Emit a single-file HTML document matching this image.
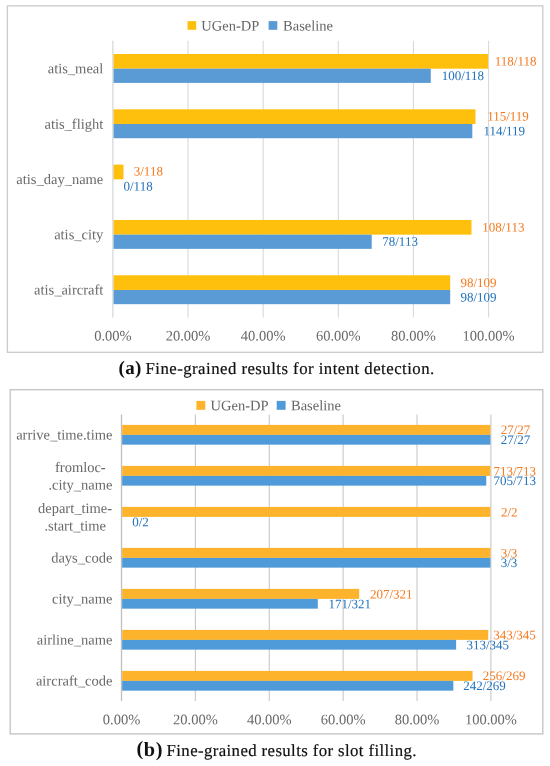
<!DOCTYPE html>
<html lang="en"><head><meta charset="utf-8"><title>Fine-grained results</title>
<style>html,body{margin:0;padding:0;background:#fff}svg{display:block;text-rendering:geometricPrecision}text{font-family:"Liberation Serif","Times New Roman",serif}.ax{font-size:14.5px;fill:#6a6a6a}.lg{font-size:14.5px;fill:#666}.dl{font-size:13px}.o{fill:#F47A1F}.b{fill:#2272BC}.cap{font-size:16.8px;fill:#111;stroke:#111;stroke-width:.2px;letter-spacing:.33px}</style></head><body>
<svg width="550" height="766" viewBox="0 0 550 766">
<rect width="550" height="766" fill="#fff"/>
<rect x="7.4" y="5.85" width="535.4" height="346.45" fill="#fff" stroke="#CBCBCB" stroke-width="1.3"/>
<line x1="112.9" y1="40.8" x2="112.9" y2="317.6" stroke="#D4D6DC" stroke-width="1.25"/>
<text class="ax" x="112.9" y="340.5" text-anchor="middle" transform="rotate(0.03 112.9 340.5)">0.00%</text>
<line x1="188.04" y1="40.8" x2="188.04" y2="317.6" stroke="#D9D9D9" stroke-width="1.1"/>
<text class="ax" x="188.04" y="340.5" text-anchor="middle" transform="rotate(0.03 188.04 340.5)">20.00%</text>
<line x1="263.18" y1="40.8" x2="263.18" y2="317.6" stroke="#D9D9D9" stroke-width="1.1"/>
<text class="ax" x="263.18" y="340.5" text-anchor="middle" transform="rotate(0.03 263.18 340.5)">40.00%</text>
<line x1="338.32" y1="40.8" x2="338.32" y2="317.6" stroke="#D9D9D9" stroke-width="1.1"/>
<text class="ax" x="338.32" y="340.5" text-anchor="middle" transform="rotate(0.03 338.32 340.5)">60.00%</text>
<line x1="413.46" y1="40.8" x2="413.46" y2="317.6" stroke="#D9D9D9" stroke-width="1.1"/>
<text class="ax" x="413.46" y="340.5" text-anchor="middle" transform="rotate(0.03 413.46 340.5)">80.00%</text>
<line x1="488.6" y1="40.8" x2="488.6" y2="317.6" stroke="#D9D9D9" stroke-width="1.1"/>
<text class="ax" x="488.6" y="340.5" text-anchor="middle" transform="rotate(0.03 488.6 340.5)">100.00%</text>
<rect x="113.53" y="54" width="374.58" height="14.7" fill="#FEC00D"/>
<rect x="113.53" y="68.7" width="317.26" height="14.2" fill="#5B9BD5"/>
<text class="dl o" x="494.75" y="65.4" transform="rotate(0.03 494.75 65.4)">118/118</text>
<text class="dl b" x="441.75" y="79.9" transform="rotate(0.03 441.75 79.9)">100/118</text>
<text class="ax" x="103.3" y="73.35" text-anchor="end" transform="rotate(0.03 103.3 73.35)">atis_meal</text>
<rect x="113.53" y="109.32" width="361.95" height="14.7" fill="#FEC00D"/>
<rect x="113.53" y="124.02" width="358.79" height="14.2" fill="#5B9BD5"/>
<text class="dl o" x="487.15" y="120.6" transform="rotate(0.03 487.15 120.6)">115/119</text>
<text class="dl b" x="483.45" y="135.2" transform="rotate(0.03 483.45 135.2)">114/119</text>
<text class="ax" x="103.3" y="128.67" text-anchor="end" transform="rotate(0.03 103.3 128.67)">atis_flight</text>
<rect x="113.53" y="164.64" width="9.97" height="14.7" fill="#FEC00D"/>
<text class="dl o" x="133.75" y="175.6" transform="rotate(0.03 133.75 175.6)">3/118</text>
<text class="dl b" x="123.5" y="190.4" transform="rotate(0.03 123.5 190.4)">0/118</text>
<text class="ax" x="103.3" y="183.99" text-anchor="end" transform="rotate(0.03 103.3 183.99)">atis_day_name</text>
<rect x="113.53" y="219.96" width="357.95" height="14.7" fill="#FEC00D"/>
<rect x="113.53" y="234.66" width="258.21" height="14.2" fill="#5B9BD5"/>
<text class="dl o" x="482.25" y="231.6" transform="rotate(0.03 482.25 231.6)">108/113</text>
<text class="dl b" x="382.25" y="245.8" transform="rotate(0.03 382.25 245.8)">78/113</text>
<text class="ax" x="103.3" y="239.31" text-anchor="end" transform="rotate(0.03 103.3 239.31)">atis_city</text>
<rect x="113.53" y="275.28" width="336.66" height="14.7" fill="#FEC00D"/>
<rect x="113.53" y="289.98" width="336.66" height="14.2" fill="#5B9BD5"/>
<text class="dl o" x="460.4" y="287" transform="rotate(0.03 460.4 287)">98/109</text>
<text class="dl b" x="460.4" y="301.4" transform="rotate(0.03 460.4 301.4)">98/109</text>
<text class="ax" x="103.3" y="294.63" text-anchor="end" transform="rotate(0.03 103.3 294.63)">atis_aircraft</text>
<rect x="187.5" y="21.1" width="8.7" height="8.7" fill="#FEC00D"/>
<text class="lg" x="201.3" y="30.4" transform="rotate(0.03 201.3 30.4)">UGen-DP</text>
<rect x="268.6" y="21.1" width="8.7" height="8.7" fill="#5B9BD5"/>
<text class="lg" x="283.1" y="30.4" transform="rotate(0.03 283.1 30.4)">Baseline</text>
<rect x="10.2" y="389.7" width="532.6" height="344.2" fill="#fff" stroke="#C6C6C6" stroke-width="1.4"/>
<line x1="121.5" y1="414.4" x2="121.5" y2="701.1" stroke="#BFBFBF" stroke-width="1.3"/>
<text class="ax" x="121.5" y="724.35" text-anchor="middle" transform="rotate(0.03 121.5 724.35)">0.00%</text>
<line x1="195.38" y1="414.4" x2="195.38" y2="701.1" stroke="#C8C8C8" stroke-width="1.1"/>
<text class="ax" x="195.38" y="724.35" text-anchor="middle" transform="rotate(0.03 195.38 724.35)">20.00%</text>
<line x1="269.26" y1="414.4" x2="269.26" y2="701.1" stroke="#C8C8C8" stroke-width="1.1"/>
<text class="ax" x="269.26" y="724.35" text-anchor="middle" transform="rotate(0.03 269.26 724.35)">40.00%</text>
<line x1="343.14" y1="414.4" x2="343.14" y2="701.1" stroke="#C8C8C8" stroke-width="1.1"/>
<text class="ax" x="343.14" y="724.35" text-anchor="middle" transform="rotate(0.03 343.14 724.35)">60.00%</text>
<line x1="417.02" y1="414.4" x2="417.02" y2="701.1" stroke="#C8C8C8" stroke-width="1.1"/>
<text class="ax" x="417.02" y="724.35" text-anchor="middle" transform="rotate(0.03 417.02 724.35)">80.00%</text>
<line x1="490.9" y1="414.4" x2="490.9" y2="701.1" stroke="#C8C8C8" stroke-width="1.1"/>
<text class="ax" x="490.9" y="724.35" text-anchor="middle" transform="rotate(0.03 490.9 724.35)">100.00%</text>
<rect x="122.15" y="424.9" width="368.25" height="10" fill="#FDB42C"/>
<rect x="122.15" y="434.9" width="368.25" height="9.75" fill="#4F9AD8"/>
<text class="dl o" x="500.65" y="434.1" transform="rotate(0.03 500.65 434.1)">27/27</text>
<text class="dl b" x="500.65" y="444.1" transform="rotate(0.03 500.65 444.1)">27/27</text>
<text class="ax" x="112.4" y="439.62" text-anchor="end" transform="rotate(0.03 112.4 439.62)">arrive_time.time</text>
<rect x="122.15" y="465.9" width="368.25" height="10" fill="#FDB42C"/>
<rect x="122.15" y="475.9" width="364.11" height="9.75" fill="#4F9AD8"/>
<text class="dl o" x="493.5" y="475.4" transform="rotate(0.03 493.5 475.4)">713/713</text>
<text class="dl b" x="493.5" y="485.1" transform="rotate(0.03 493.5 485.1)">705/713</text>
<text class="ax" x="80.35" y="472.07" text-anchor="middle" transform="rotate(0.03 80.35 472.07)">fromloc-</text>
<text class="ax" x="80.45" y="489.47" text-anchor="middle" transform="rotate(0.03 80.45 489.47)">.city_name</text>
<rect x="122.15" y="506.9" width="368.25" height="10" fill="#FDB42C"/>
<text class="dl o" x="500.9" y="516.5" transform="rotate(0.03 500.9 516.5)">2/2</text>
<text class="dl b" x="132.2" y="526.3" transform="rotate(0.03 132.2 526.3)">0/2</text>
<text class="ax" x="75.05" y="513.07" text-anchor="middle" transform="rotate(0.03 75.05 513.07)">depart_time-</text>
<text class="ax" x="75.2" y="530.48" text-anchor="middle" transform="rotate(0.03 75.2 530.48)">.start_time</text>
<rect x="122.15" y="547.9" width="368.25" height="10" fill="#FDB42C"/>
<rect x="122.15" y="557.9" width="368.25" height="9.75" fill="#4F9AD8"/>
<text class="dl o" x="500.7" y="557.4" transform="rotate(0.03 500.7 557.4)">3/3</text>
<text class="dl b" x="500.7" y="566.9" transform="rotate(0.03 500.7 566.9)">3/3</text>
<text class="ax" x="112.4" y="562.62" text-anchor="end" transform="rotate(0.03 112.4 562.62)">days_code</text>
<rect x="122.15" y="588.9" width="237.06" height="10" fill="#FDB42C"/>
<rect x="122.15" y="598.9" width="195.63" height="9.75" fill="#4F9AD8"/>
<text class="dl o" x="369.95" y="598.5" transform="rotate(0.03 369.95 598.5)">207/321</text>
<text class="dl b" x="328.5" y="608.2" transform="rotate(0.03 328.5 608.2)">171/321</text>
<text class="ax" x="112.4" y="603.62" text-anchor="end" transform="rotate(0.03 112.4 603.62)">city_name</text>
<rect x="122.15" y="629.9" width="366.11" height="10" fill="#FDB42C"/>
<rect x="122.15" y="639.9" width="333.99" height="9.75" fill="#4F9AD8"/>
<text class="dl o" x="493.25" y="639.2" transform="rotate(0.03 493.25 639.2)">343/345</text>
<text class="dl b" x="466.4" y="649.2" transform="rotate(0.03 466.4 649.2)">313/345</text>
<text class="ax" x="112.4" y="644.62" text-anchor="end" transform="rotate(0.03 112.4 644.62)">airline_name</text>
<rect x="122.15" y="670.9" width="350.4" height="10" fill="#FDB42C"/>
<rect x="122.15" y="680.9" width="331.17" height="9.75" fill="#4F9AD8"/>
<text class="dl o" x="482.85" y="680.1" transform="rotate(0.03 482.85 680.1)">256/269</text>
<text class="dl b" x="463.25" y="689.9" transform="rotate(0.03 463.25 689.9)">242/269</text>
<text class="ax" x="112.4" y="685.62" text-anchor="end" transform="rotate(0.03 112.4 685.62)">aircraft_code</text>
<rect x="196.4" y="400.9" width="8.9" height="8.9" fill="#FDB42C"/>
<text class="lg" x="210.5" y="410.2" transform="rotate(0.03 210.5 410.2)">UGen-DP</text>
<rect x="276.7" y="400.9" width="8.9" height="8.9" fill="#4F9AD8"/>
<text class="lg" x="291" y="410.2" transform="rotate(0.03 291 410.2)">Baseline</text>
<text class="cap" x="118.6" y="374" transform="rotate(0.02 118.6 374)" style="letter-spacing:0.46px"><tspan style="font-size:19px;font-weight:bold;letter-spacing:0.35px;stroke-width:0">(a)</tspan> <tspan x="145.5">Fine-grained results for intent detection.</tspan></text>
<text class="cap" x="136.6" y="755.5" transform="rotate(0.02 136.6 755.5)" style="letter-spacing:0.39px"><tspan style="font-size:20.3px;font-weight:bold;letter-spacing:0.5px;stroke-width:0">(b)</tspan> <tspan x="166.6">Fine-grained results for slot filling.</tspan></text>
</svg></body></html>
